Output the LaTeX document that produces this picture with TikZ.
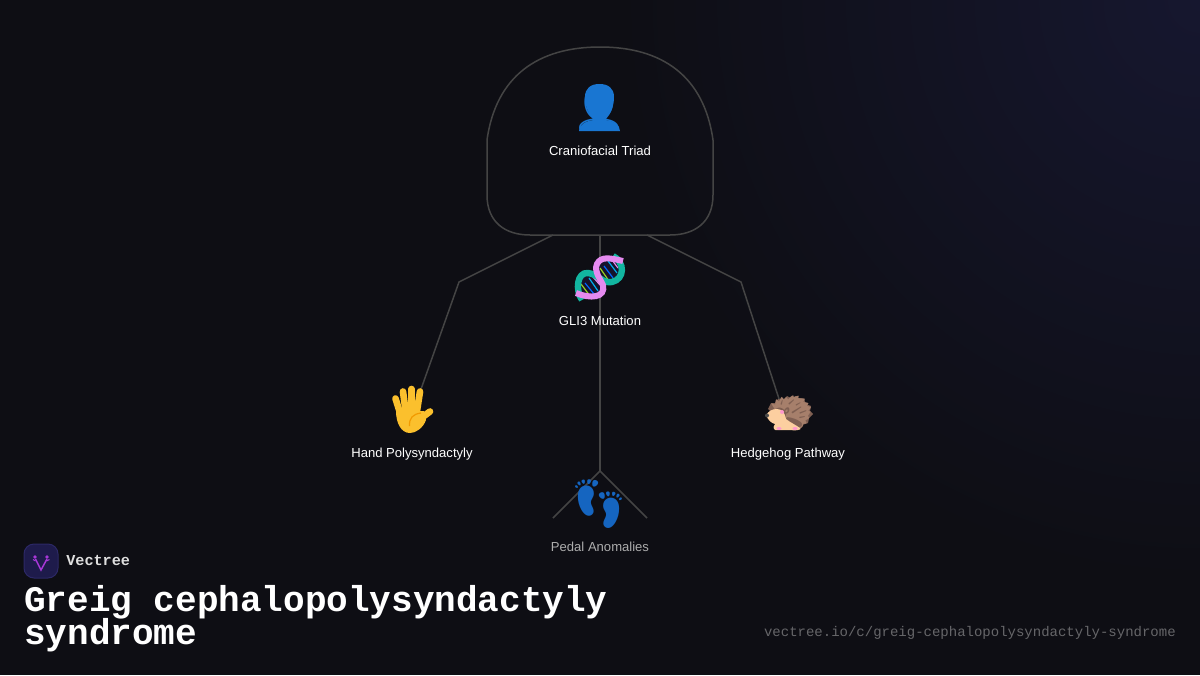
\documentclass[tikz,border=0pt]{standalone}
\usepackage{fontspec}
\setmainfont{Liberation Sans}
\setmonofont{Liberation Mono}
\newfontfamily\emojifont{Noto Emoji}
\definecolor{bgc}{HTML}{0E0E14}
\definecolor{glowc}{HTML}{16172F}
\definecolor{edgec}{HTML}{444444}
\definecolor{urlc}{HTML}{666669}
\definecolor{logof}{HTML}{1E1B4B}
\definecolor{logos}{HTML}{2C2866}
\definecolor{logov}{HTML}{A838D8}
\definecolor{skyc}{HTML}{1976D2}
\definecolor{footc}{HTML}{1565C0}
\definecolor{handc}{HTML}{FBC02D}
\definecolor{creasec}{HTML}{F29A00}
\definecolor{spinec}{HTML}{7F5F52}
\definecolor{stripec}{HTML}{A67F6B}
\definecolor{skinc}{HTML}{FCCFA0}
\definecolor{pinkc}{HTML}{E58AF0}
\definecolor{tealc}{HTML}{12B5A0}
\definecolor{lobec}{HTML}{15122B}
\tikzset{
  edge/.style={draw=edgec,line width=1.125pt,line join=miter},
  lab/.style={font=\fontsize{9.8pt}{11pt}\selectfont,text=white,inner sep=0pt,anchor=base},
  emo/.style={font=\emojifont\fontsize{36pt}{36pt}\selectfont,inner sep=0pt,anchor=center},
  rung/.style={line width=0.9pt},
}
\begin{document}
\begin{tikzpicture}[x=0.75pt,y=-0.75pt]
\useasboundingbox (0,0) rectangle (1200,675);
\fill[bgc] (0,0) rectangle (1200,675);
\begin{scope}
\clip (0,0) rectangle (1200,675);
\shade[inner color=glowc,outer color=bgc] (1200,0) circle (580);
\end{scope}
\coordinate (headL) at (553,235);
\coordinate (headR) at (647,235);
\coordinate (headC) at (600,235);
\coordinate (kneeL) at (459,282);
\coordinate (kneeR) at (741,282);
\coordinate (fork) at (600,471);
\coordinate (toeL) at (553,518);
\coordinate (toeR) at (647,518);
\coordinate (handEnd) at (420,392);
\coordinate (hogEnd) at (780,402);
\draw[edge] (487,140) .. controls (496,76) and (538,47) .. (600,47) .. controls (662,47) and (704,76) .. (713,140) -- (713,195) .. controls (713,222) and (695,235) .. (670,235) -- (530,235) .. controls (505,235) and (487,222) .. (487,195) -- cycle;
\draw[edge] (headL) -- (kneeL) -- (handEnd);
\draw[edge] (headR) -- (kneeR) -- (hogEnd);
\draw[edge] (headC) -- (fork);
\draw[edge] (toeL) -- (fork) -- (toeR);
% person
\fill[skyc] (599.5,84) .. controls (608,84) and (614,88) .. (614,97) .. controls (614,108) and (609,116) .. (605,120) .. controls (614,121) and (620,125) .. (620,131) -- (579,131) .. controls (579,125) and (585,121) .. (594,120) .. controls (590,116) and (585,108) .. (585,97) .. controls (585,88) and (591,84) .. (599.5,84) -- cycle;
\node[emo,text=skyc,font=\emojifont\fontsize{34pt}{34pt}\selectfont] (person) at (599.5,108) {\char"1F464};
\node[lab] (ct) at (600,155) {Craniofacial Triad};
% dna
\fill[lobec] (609,268) circle (12);
\fill[lobec] (590,285) circle (12);
\node[emo,text=tealc,opacity=0] (dna) at (599,278) {\char"1F9EC};
\begin{scope}[rung]
\draw[blue!60!cyan] (604,266) -- (613,278);
\draw[yellow!60!green] (600,268) -- (609,281);
\draw[cyan] (608,261) -- (617,273);
\draw[pinkc] (612,260) -- (618,268);
\draw[blue!60!cyan] (585,283) -- (594,294);
\draw[yellow!60!green] (581,284) -- (590,296);
\draw[cyan] (589,278) -- (598,291);
\draw[pinkc] (593,277) -- (600,285);
\end{scope}
\draw[tealc,line width=4.8pt,line cap=butt] (613,256) .. controls (625,262) and (625,279) .. (612,282) .. controls (603,284) and (598,274) .. (588,273) .. controls (577,272) and (575,290) .. (582,300);
\draw[pinkc,line width=4.5pt] (623,261) .. controls (610,258) and (601,256) .. (597,264) .. controls (594,271) and (599,277) .. (603,285) .. controls (606,298) and (590,299) .. (576,293);
\node[lab] (gli) at (600,325) {GLI3 Mutation};
% hand
\node[emo,text=handc,opacity=0] (hand) at (411,409) {\char"1F590};
\begin{scope}[handc,line cap=round]
\draw[line width=5pt] (395.5,398.5) -- (401,416);
\draw[line width=5pt] (403,391.5) -- (406,414);
\draw[line width=5pt] (411.5,389) -- (411.5,414);
\draw[line width=5pt] (420,391.5) -- (416.5,414);
\draw[line width=5pt] (430,411.5) -- (420,419);
\fill (396,411) -- (424,411) -- (426,420) .. controls (423,428) and (416,433) .. (410,433) .. controls (401,433) and (396,423) .. (396,411) -- cycle;
\end{scope}
\draw[creasec,line width=0.9pt] (409.5,426) .. controls (409,418) and (413,414) .. (421,413);
\node[lab] (hp) at (412,457) {Hand Polysyndactyly};
% hedgehog
\fill[spinec] (768,409) -- (771,403) -- (775,403) -- (778,399) -- (783,400) -- (787,396) -- (791,398) -- (796,396) -- (799,399) -- (804,399) -- (806,404) -- (811,406) -- (810,411) -- (813,414) -- (809,418) -- (808,423) -- (802,425) -- (800,430) -- (785,425) -- cycle;
\node[emo,text=stripec,font=\emojifont\fontsize{26pt}{26pt}\selectfont] (hog) at (790,413) {\char"1F994};
\fill[skinc] (766,415) .. controls (769,411) and (772,409) .. (777,409) .. controls (782,409) and (785,413) .. (786,419) .. controls (791,423) and (796,425) .. (800,428) .. controls (801,430) and (796,431) .. (790,430) -- (778,430) .. controls (774,431) and (772,428) .. (775,424) .. controls (771,423) and (768,420) .. (766,415) -- cycle;
\fill[black!70] (767,415.5) circle (2);
\fill[pink!80!magenta] (782,412) circle (2);
\fill[pink!80!magenta] (779,428.5) ellipse (2.5 and 1.5);
\fill[pink!80!magenta] (795,428.5) ellipse (2.5 and 1.5);
\node[lab] (hh) at (788,457) {Hedgehog Pathway};
% feet
\node[emo,text=footc] (foot) at (599,504) {\char"1F463};
\node[lab,text=white!68!black] (pa) at (600,551) {Pedal Anomalies};
% brand
\node[draw=logos,fill=logof,rounded corners=7.5pt,minimum width=25.5pt,minimum height=25.5pt,inner sep=0pt,line width=0.75pt] (logo) at (41,561) {};
\draw[logov,line width=1.1pt] (35.5,559) -- (41,570) -- (47,559);
\draw[logov,line width=0.75pt] (33,559.5) -- (35.5,561) (49.5,559.5) -- (46.5,561);
\fill[logov] (35,557) circle (1.8); \fill[logov] (47,557) circle (1.8);
\node[font=\ttfamily\bfseries\fontsize{11.4pt}{12pt}\selectfont,text=white!87!black,inner sep=0pt,anchor=base west] (brand) at (66,565) {Vectree};
\node[font=\ttfamily\bfseries\fontsize{27pt}{24.3pt}\selectfont,text=white,inner sep=0pt,anchor=north west,align=left] (title) at (24,585) {Greig cephalopolysyndactyly\\[-1.5pt]syndrome};
\node[font=\ttfamily\fontsize{10.5pt}{12pt}\selectfont,text=urlc,inner sep=0pt,anchor=base east] (url) at (1176,636) {vectree.io/c/greig-cephalopolysyndactyly-syndrome};
\end{tikzpicture}
\end{document}
